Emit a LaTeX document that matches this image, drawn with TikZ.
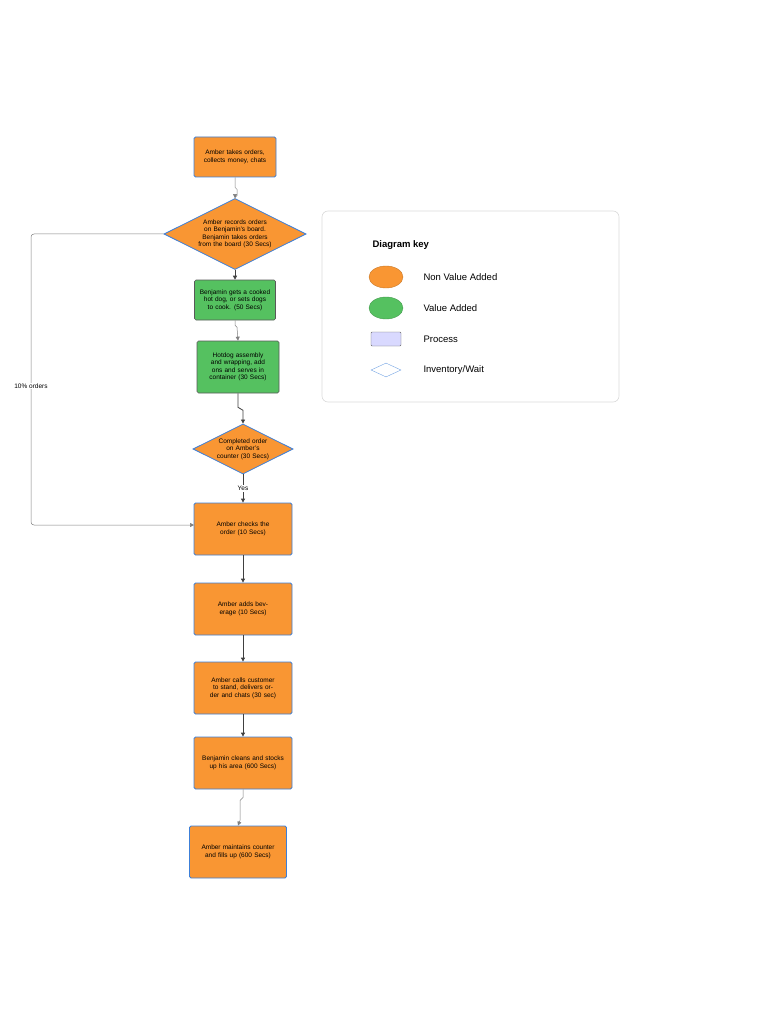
\documentclass[tikz,border=0pt]{standalone}
\usepackage{fontspec}
\setmainfont{Liberation Sans}
\usetikzlibrary{shapes.geometric,arrows.meta}
\definecolor{org}{HTML}{F99633}
\definecolor{grn}{HTML}{55C160}
\definecolor{bord}{HTML}{3C7FD8}
\begin{document}
\begin{tikzpicture}[x=1pt,y=-1pt,
  box/.style={draw=#1!70!black,rounded corners=1.5pt,align=center,font=\fontsize{6.5}{7.5}\selectfont,inner sep=1pt,line width=0.6pt},
  ob/.style={box=org,fill=org,draw=bord,line width=0.8pt},
  gb/.style={box=grn,fill=grn,draw=gray!70!black},
  dia/.style={diamond,aspect=2,fill=org,draw=bord,line width=0.8pt,align=center,font=\fontsize{6.5}{7.5}\selectfont,inner sep=0pt},
  ar/.style={-{Triangle[length=4pt,width=4pt]},line width=0.8pt,draw=black!75},
  thin/.style={-{Triangle[length=4pt,width=4pt]},line width=0.5pt,draw=gray},
  kl/.style={anchor=west,font=\fontsize{9.5}{11}\selectfont}]
\useasboundingbox (0,0) rectangle (768,1024);
\node[ob,minimum width=82,minimum height=40,text width=70] (a) at (235,157) {Amber takes orders, collects money, chats};
\node[dia,minimum width=130,minimum height=64,text width=85] (d1) at (235,234) {Amber records orders on Benjamin's board. Benjamin takes orders from the board (30 Secs)};
\node[gb,minimum width=81,minimum height=40,text width=72] (b) at (235,300) {Benjamin gets a cooked hot dog, or sets dogs to cook. (50 Secs)};
\node[gb,minimum width=82,minimum height=52,text width=72] (h) at (238,367) {Hotdog assembly and wrapping, add ons and serves in container (30 Secs)};
\node[dia,minimum width=94,minimum height=50,text width=58] (d2) at (243,449) {Completed order on Amber's counter (30 Secs)};
\node[ob,minimum width=98,minimum height=52,text width=85] (c) at (243,529) {Amber checks the order (10 Secs)};
\node[ob,minimum width=98,minimum height=52,text width=85] (e) at (243,609) {Amber adds beverage (10 Secs)};
\node[ob,minimum width=98,minimum height=52,text width=92] (f) at (243,688) {Amber calls customer to stand, delivers order and chats (30 sec)};
\node[ob,minimum width=98,minimum height=52,text width=88] (g) at (243,763) {Benjamin cleans and stocks up his area (600 Secs)};
\node[ob,minimum width=97,minimum height=52,text width=85] (i) at (238,852) {Amber maintains counter and fills up (600 Secs)};
\draw[thin] (a.south) -- ++(0,10) -- ++(2,2) -- ++(0,6) -- ++(-2,2) -- (d1.north);
\draw[ar] (d1.south) -- (b.north);
\draw[thin] (b.south) -- ++(0,5) -- ++(2,2) -- (h.north);
\draw[ar] (h.south) -- ++(0,14) -- ++(5,3) -- (d2.north);
\draw[ar] (d2.south) -- node[fill=white,inner sep=1pt,font=\fontsize{6.5}{7.5}\selectfont]{Yes} (c.north);
\draw[ar] (c.south) -- (e.north);
\draw[ar] (e.south) -- (f.north);
\draw[ar] (f.south) -- (g.north);
\draw[thin] (g.south) -- ++(0,8) -- ++(-3,3) -- ++(0,20) -- (i.north);
\coordinate (l1) at (31,234);
\coordinate (l2) at (31,525);
\draw[thin,rounded corners=3pt] (d1.west) -- (l1) -- (l2) -- (194,525);
\node[fill=white,inner sep=1pt,font=\fontsize{6.5}{7.5}\selectfont] (lab) at (31,386) {10\% orders};
\node[draw=gray!30,rounded corners=6pt,minimum width=297,minimum height=191,line width=0.6pt] (key) at (470.5,306.5) {};
\node[font=\bfseries\fontsize{9.5}{11}\selectfont,anchor=west] (kt) at (369,245) {Diagram key};
\node[ellipse,fill=org,draw=org!80!black,minimum width=34,minimum height=22,inner sep=0] (k1) at (386,277) {};
\node[ellipse,fill=grn,draw=grn!80!black,minimum width=34,minimum height=22,inner sep=0] (k2) at (386,308) {};
\node[rectangle,fill=blue!15,draw=black!60,rounded corners=1pt,minimum width=30,minimum height=14,inner sep=0] (k3) at (386,339) {};
\node[diamond,aspect=2,fill=white,draw=bord!70,minimum width=30,minimum height=14,inner sep=0] (k4) at (386,370) {};
\node[kl] (kl1) at (420,277) {Non Value Added};
\node[kl] (kl2) at (420,308) {Value Added};
\node[kl] (kl3) at (420,339) {Process};
\node[kl] (kl4) at (420,370) {Inventory/Wait};
\end{tikzpicture}
\end{document}
